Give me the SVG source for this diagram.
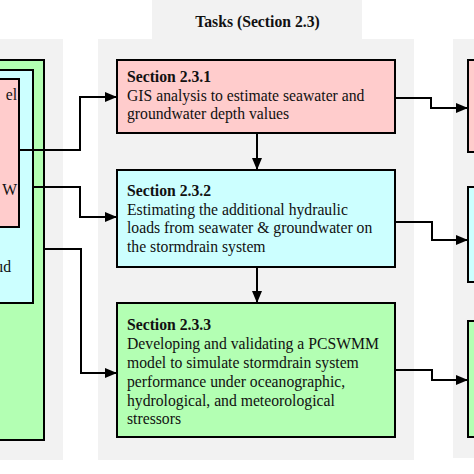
<svg xmlns="http://www.w3.org/2000/svg" width="474" height="474" viewBox="0 0 474 474">
<defs>
<style>
.panel{fill:#f2f2f2;stroke:none}
.box{stroke:#000;stroke-width:2}
.pink{fill:#ffcccc}
.cyan{fill:#ccffff}
.green{fill:#b3ffb3}
.t{font-family:"Liberation Serif","Times New Roman",serif;font-size:15.7px;fill:#111}
.b{font-weight:bold}
.conn{fill:none;stroke:#000;stroke-width:2}
</style>
<marker id="arr" viewBox="0 0 12 10" refX="12" refY="5" markerWidth="12" markerHeight="10" markerUnits="userSpaceOnUse" orient="auto">
<path d="M0,0 L12,5 L0,10 Z" fill="#000"/>
</marker>
</defs>
<rect width="474" height="474" fill="#fff"/>
<g id="panels">
<rect class="panel" x="0" y="39" width="63" height="421"/>
<rect class="panel" x="152" y="0" width="210" height="39"/>
<rect class="panel" x="98" y="39" width="316" height="421"/>
<rect class="panel" x="453" y="39" width="30" height="419"/>
<text class="t b" x="257.5" y="27" text-anchor="middle">Tasks (Section 2.3)</text>
</g>
<g id="left-green"><rect class="box green" x="-20" y="60" width="64" height="380"/></g>
<g id="left-cyan"><rect class="box cyan" x="-20" y="70" width="53" height="233"/><text class="t" x="11" y="272" text-anchor="end">ud</text></g>
<g id="left-pink"><rect class="box pink" x="-20" y="79" width="39" height="148"/><text class="t" x="17" y="100" text-anchor="end">el</text><text class="t" x="17" y="195" text-anchor="end">W</text></g>
<g id="s231">
<rect class="box pink" x="117" y="60" width="278" height="73"/>
<text class="t b" x="127" y="82">Section 2.3.1</text>
<text class="t" x="127" y="101">GIS analysis to estimate seawater and</text>
<text class="t" x="127" y="119">groundwater depth values</text>
</g>
<g id="s232">
<rect class="box cyan" x="117" y="170" width="278" height="97"/>
<text class="t b" x="127" y="196">Section 2.3.2</text>
<text class="t" x="127" y="215">Estimating the additional hydraulic</text>
<text class="t" x="127" y="233">loads from seawater &amp; groundwater on</text>
<text class="t" x="127" y="252">the stormdrain system</text>
</g>
<g id="s233">
<rect class="box green" x="117" y="303" width="278" height="134"/>
<text class="t b" x="127" y="330">Section 2.3.3</text>
<text class="t" x="127" y="349">Developing and validating a PCSWMM</text>
<text class="t" x="127" y="368">model to simulate stormdrain system</text>
<text class="t" x="127" y="387">performance under oceanographic,</text>
<text class="t" x="127" y="406">hydrological, and meteorological</text>
<text class="t" x="127" y="424">stressors</text>
</g>
<g id="right-pink"><rect class="box pink" x="468" y="60" width="30" height="92"/></g>
<g id="right-cyan"><rect class="box cyan" x="468" y="187" width="30" height="95"/></g>
<g id="right-green"><rect class="box green" x="468" y="321" width="30" height="116"/></g>
<g id="connectors">
<path class="conn" d="M19,150 H80 V97 H117" marker-end="url(#arr)"/>
<path class="conn" d="M33,187 H80 V217 H117" marker-end="url(#arr)"/>
<path class="conn" d="M44,249 H81 V373 H117" marker-end="url(#arr)"/>
<path class="conn" d="M257,133 V170" marker-end="url(#arr)"/>
<path class="conn" d="M257,267 V303" marker-end="url(#arr)"/>
<path class="conn" d="M395,98 H431 V108 H468" marker-end="url(#arr)"/>
<path class="conn" d="M395,222 H432 V240 H468" marker-end="url(#arr)"/>
<path class="conn" d="M395,370 H432 V380 H468" marker-end="url(#arr)"/>
</g>
</svg>
